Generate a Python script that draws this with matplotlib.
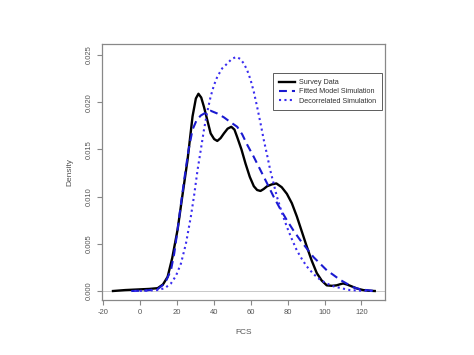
import matplotlib
matplotlib.use("Agg")
import matplotlib.pyplot as plt

plt.rcParams['font.family'] = ['Liberation Sans', 'DejaVu Sans']

survey_x = [-14.6, -8, 0.6, 5, 9.6, 12.5, 15, 17.5, 20.4, 23, 25.8, 28.5, 30.3, 31.7, 33.2, 34.7, 36.5, 38.3, 40.2, 41.9,
            43.7, 45.5, 47.5, 49.5, 51.2, 52.7, 55, 57.2, 59.5, 61.7, 63.5, 65.3, 67, 68.9, 71.5, 73.9, 76.8, 79.6,
            82.3, 85.0, 87.7, 90.4, 93.1, 95.8, 98.5, 101.2, 104, 106.5, 108.5, 110.1, 112.3, 114.6, 117.8, 120.9, 124, 127.2]
survey_y = [0.0, 0.0001, 0.00018, 0.00022, 0.0003, 0.0007, 0.0015, 0.0035, 0.0065, 0.0101, 0.0139, 0.0185, 0.0204, 0.0209,
            0.0205, 0.0195, 0.0181, 0.0167, 0.0161, 0.0159,
            0.0162, 0.0167, 0.0172, 0.0174, 0.0171, 0.0163, 0.0150, 0.0135, 0.0121, 0.0111, 0.0107, 0.0106, 0.0108, 0.0111, 0.0113, 0.0114, 0.0110, 0.0103,
            0.0093, 0.0079, 0.0063, 0.0047, 0.0032, 0.0019, 0.0011, 0.0006, 0.00055, 0.0006, 0.00072, 0.0008, 0.00068, 0.0005, 0.00025, 0.0001, 0.00003, 0.0]

fitted_x = [-4.7, 3, 9.6, 13.5, 16.8, 18.6, 20.4, 22.2, 24.0, 26.2, 28.5, 30.7, 33, 35.6, 38.3, 42, 45.5, 49, 52.7, 55.4, 58.1,
            61.7, 65.3, 68.9, 72.4, 76, 79.6, 83.2, 86.8, 90.4, 94, 97.6, 101.2, 104.8, 108.3, 111.9, 115.5, 119, 122.7, 127.2]
fitted_y = [0.0, 0.00005, 0.0002, 0.0008, 0.0022, 0.0040, 0.0065, 0.0092, 0.0118, 0.0148, 0.0171, 0.0181, 0.0186, 0.0189, 0.0191, 0.0188, 0.0184, 0.0179, 0.0174, 0.0166, 0.0155,
            0.0142, 0.0128, 0.0114, 0.0100, 0.0087, 0.0075, 0.0064, 0.0054, 0.0045, 0.0036, 0.0029, 0.0022, 0.0017, 0.0012, 0.0008, 0.0004, 0.0002, 0.0001, 0.0]

decor_x = [-3, 3, 9.6, 13.5, 16.8, 19.5, 22.2, 24.9, 27.6, 29.4, 31.2, 33, 34.7, 36.5, 38.3, 40.1, 41.9, 44.6, 47.3, 49.8, 52.2,
           54.3, 56.3, 58.1, 59.9, 61.7, 63.5, 65.3, 67.1, 68.9, 70.6, 72.4, 74.2, 76.9, 79.6, 82.3, 85, 87.7, 90.4, 94, 97.6,
           101.2, 104.8, 109, 113.7, 120, 127.2]
decor_y = [0.0, 0.00003, 0.0001, 0.0003, 0.0008, 0.0016, 0.0029, 0.0050, 0.0079, 0.0102, 0.0128, 0.0150, 0.0171, 0.0190, 0.0206, 0.0218, 0.0227, 0.0236, 0.0241, 0.0246, 0.0248,
           0.0246, 0.0241, 0.0234, 0.0224, 0.0211, 0.0195, 0.0178, 0.0160, 0.0144, 0.0128, 0.0114, 0.0100, 0.0083, 0.0068, 0.0055, 0.0043, 0.0034, 0.0026, 0.0018, 0.0012,
           0.0008, 0.0005, 0.0003, 0.0001, 0.00003, 0.0]

xticks = [-20, 0, 20, 40, 60, 80, 100, 120]
yticks = [0.000, 0.005, 0.010, 0.015, 0.020, 0.025]
ytick_labels = ["0.000", "0.005", "0.010", "0.015", "0.020", "0.025"]

fig = plt.figure(figsize=(4.74, 3.55), dpi=100)
ax = fig.add_axes([0.2146, 0.155, 0.5974, 0.721])

gray = '#555555'
ax.axhline(0, color='#c8c8c8', lw=0.7, zorder=1)
ax.plot(survey_x, survey_y, color='black', lw=1.7, label='Survey Data', zorder=3)
ax.plot(fitted_x, fitted_y, color='#1a1ad0', lw=1.5, dashes=(3.8, 2.4), label='Fitted Model Simulation', zorder=3)
ax.plot(decor_x, decor_y, color='#3a2cf0', lw=1.5, dashes=(1, 1.6), label='Decorrelated Simulation', zorder=3)

ax.set_xlim(-20.7, 132.7)
ax.set_ylim(-0.00095, 0.02617)
ax.set_xticks(xticks)
ax.set_xticklabels([str(t) for t in xticks])
ax.set_yticks(yticks)
ax.set_yticklabels(ytick_labels, rotation=90, va='center')
for s in ax.spines.values():
    s.set_color('#888888')
    s.set_linewidth(0.9)
ax.tick_params(colors='#888888', labelcolor=gray, labelsize=5.5, length=3.5, width=0.8, pad=3)
ax.set_xlabel('FCS', fontsize=6, color=gray, labelpad=9)
ax.set_ylabel('Density', fontsize=6, color=gray, labelpad=9)

leg = ax.legend(loc='upper right', bbox_to_anchor=(0.989, 0.8855), borderaxespad=0, fontsize=5.2, frameon=True,
                fancybox=False, edgecolor='#333333', handlelength=2.2, borderpad=0.8, labelspacing=0.3,
                handletextpad=0.6)
leg.get_frame().set_linewidth(0.7)
for t in leg.get_texts():
    t.set_color('#333333')

fig.savefig('out.png', dpi=100)
